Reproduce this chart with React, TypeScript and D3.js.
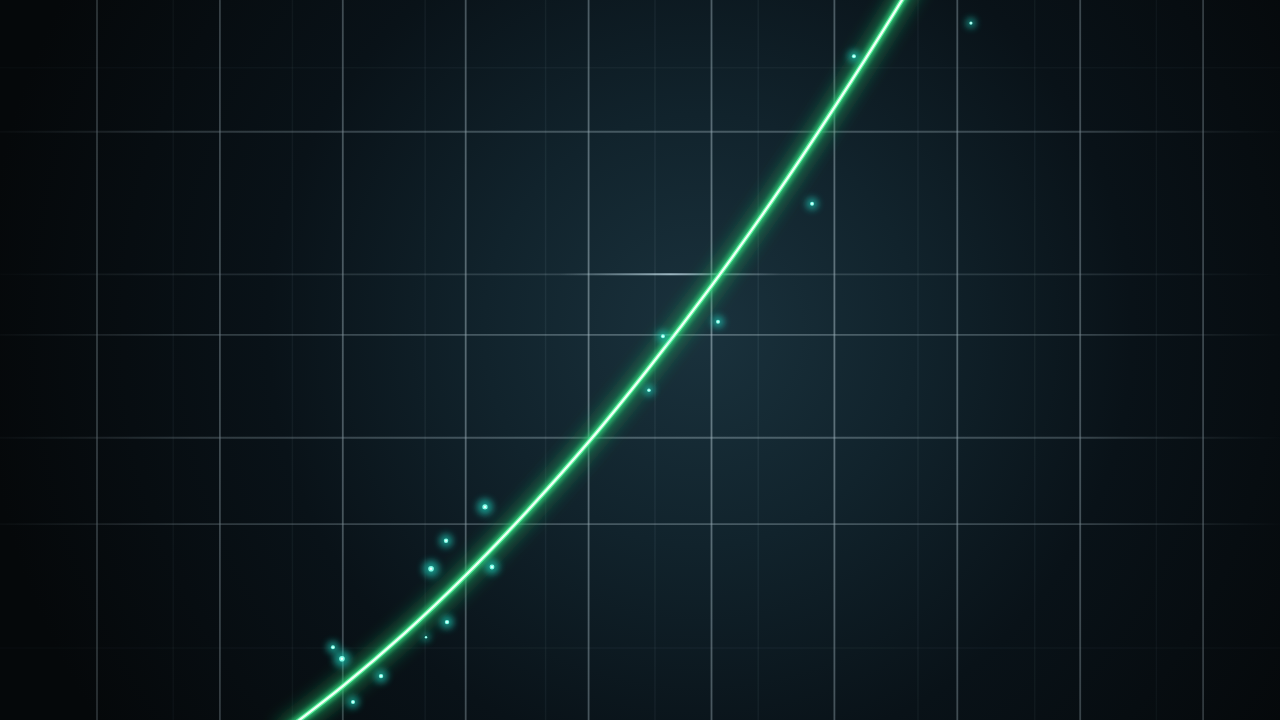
import React from "react";
import * as d3 from "d3";

const W = 1280;
const H = 720;

// grid tick values (data units)
const majorX = [0, 1, 2, 3, 4, 5, 6, 7, 8, 9];
const minorX = [0.62, 1.59, 2.67, 3.65, 4.54, 5.38, 6.68, 7.63, 8.62];
const majorY = [81.7, 61.9, 53.5, 39.2, 27.2];
const minorY = [90.6, 10.0];

// fitted trend curve
const curveX = [1.5, 2, 2.5, 3, 3.5, 4, 4.5, 5, 5.5, 6, 6.5, 7];
const curveY = [-1.9, 4.7, 12.0, 20.1, 29.0, 38.6, 49.1, 60.3, 72.3, 85.1, 98.6, 112.9];

// observed points
const pointX = [3.157, 2.84, 2.718, 3.214, 2.848, 2.677, 1.92, 1.993, 2.311, 2.083, 4.605, 5.053, 4.491, 6.159, 7.111, 5.818];
const pointY = [29.6, 24.9, 21.0, 21.25, 13.6, 11.5, 10.1, 8.5, 6.1, 2.5, 53.3, 55.3, 45.8, 92.2, 96.8, 71.7];
const pointR = [2.6, 2.2, 2.8, 2.4, 2.2, 1.2, 2.0, 2.8, 2.2, 2.0, 2.0, 2.0, 1.8, 2.0, 1.6, 2.0];

export default function App() {
  const x = d3.scaleLinear().domain([0, 10]).range([97, 97 + 1229]);
  const y = d3.scaleLinear().domain([0, 100]).range([720, 0]);

  const curveData = curveX.map((v, i) => [v, curveY[i]] as [number, number]);
  const line = d3
    .line<[number, number]>()
    .x((d) => x(d[0]))
    .y((d) => y(d[1]))
    .curve(d3.curveCatmullRom.alpha(0.5));
  const path = line(curveData) || "";

  const pts = pointX.map((v, i) => ({ x: x(v), y: y(pointY[i]), r: pointR[i] }));

  return (
    <svg
      width={W}
      height={H}
      style={{ position: "fixed", left: 0, top: 0, display: "block" }}
    >
      <defs>
        <radialGradient id="bg" cx="700" cy="330" r="720" gradientUnits="userSpaceOnUse">
          <stop offset="0" stopColor="#1a323d" />
          <stop offset="0.3" stopColor="#11232c" />
          <stop offset="0.6" stopColor="#091218" />
          <stop offset="1" stopColor="#05080a" />
        </radialGradient>
        <radialGradient id="gridFade" cx="690" cy="330" r="800" gradientUnits="userSpaceOnUse">
          <stop offset="0" stopColor="#fff" stopOpacity="0.95" />
          <stop offset="0.55" stopColor="#fff" stopOpacity="0.6" />
          <stop offset="1" stopColor="#fff" stopOpacity="0.3" />
        </radialGradient>
        <mask id="gridMask" maskUnits="userSpaceOnUse" x="0" y="0" width={W} height={H}>
          <rect x="0" y="0" width={W} height={H} fill="url(#gridFade)" />
        </mask>
        <linearGradient id="hFade" x1="0" y1="0" x2={W} y2="0" gradientUnits="userSpaceOnUse">
          <stop offset="0" stopColor="#b8cdd6" stopOpacity="0.1" />
          <stop offset="0.15" stopColor="#b8cdd6" stopOpacity="0.5" />
          <stop offset="0.85" stopColor="#b8cdd6" stopOpacity="0.5" />
          <stop offset="1" stopColor="#b8cdd6" stopOpacity="0.03" />
        </linearGradient>
        <linearGradient id="flare" x1="560" y1="0" x2="780" y2="0" gradientUnits="userSpaceOnUse">
          <stop offset="0" stopColor="#d8f4ff" stopOpacity="0" />
          <stop offset="0.5" stopColor="#d8f4ff" stopOpacity="0.7" />
          <stop offset="1" stopColor="#d8f4ff" stopOpacity="0" />
        </linearGradient>
        <filter id="glowWide" x="-20%" y="-20%" width="140%" height="140%">
          <feGaussianBlur stdDeviation="8" />
        </filter>
        <filter id="glowMid" x="-20%" y="-20%" width="140%" height="140%">
          <feGaussianBlur stdDeviation="2.5" />
        </filter>
        <filter id="dotGlow" x="-200%" y="-200%" width="500%" height="500%">
          <feGaussianBlur stdDeviation="3.5" />
        </filter>
        <filter id="soft" x="-10%" y="-10%" width="120%" height="120%">
          <feGaussianBlur stdDeviation="0.7" />
        </filter>
      </defs>

      <rect x="0" y="0" width={W} height={H} fill="url(#bg)" />

      <g mask="url(#gridMask)" filter="url(#soft)">
        {minorX.map((v) => (
          <line key={"mx" + v} x1={x(v)} x2={x(v)} y1={0} y2={H} stroke="#9fb7c2" strokeOpacity={0.1} strokeWidth={1.5} />
        ))}
        {minorY.map((v) => (
          <line key={"my" + v} x1={0} x2={W} y1={y(v)} y2={y(v)} stroke="#9fb7c2" strokeOpacity={0.08} strokeWidth={1.5} />
        ))}
        {majorX.map((v) => (
          <line key={"Mx" + v} x1={x(v)} x2={x(v)} y1={0} y2={H} stroke="#b8ccd6" strokeOpacity={0.55} strokeWidth={1.8} />
        ))}
        {majorY.map((v, i) => (
          <line
            key={"My" + v}
            x1={0}
            x2={W}
            y1={y(v)}
            y2={y(v)}
            stroke="url(#hFade)"
            strokeOpacity={i === 1 ? 0.45 : 0.8}
            strokeWidth={1.8}
          />
        ))}
        <line x1={560} x2={780} y1={y(majorY[1])} y2={y(majorY[1])} stroke="url(#flare)" strokeWidth={2} />
      </g>

      {/* curve glow */}
      <path d={path} fill="none" stroke="#1fae62" strokeWidth={22} strokeOpacity={0.5} filter="url(#glowWide)" />
      <path d={path} fill="none" stroke="#2fd67d" strokeWidth={8} strokeOpacity={0.9} filter="url(#glowMid)" />
      <path d={path} fill="none" stroke="#5ff0a0" strokeWidth={4.5} />
      <path d={path} fill="none" stroke="#f2fff6" strokeWidth={2.2} />

      {/* points */}
      {pts.map((p, i) => (
        <g key={"p" + i}>
          <circle cx={p.x} cy={p.y} r={p.r * 3} fill="#1fd6c0" opacity={0.65} filter="url(#dotGlow)" />
          <circle cx={p.x} cy={p.y} r={p.r} fill="#7ffbe6" />
          <circle cx={p.x} cy={p.y} r={p.r * 0.45} fill="#e8fffb" />
        </g>
      ))}
    </svg>
  );
}
